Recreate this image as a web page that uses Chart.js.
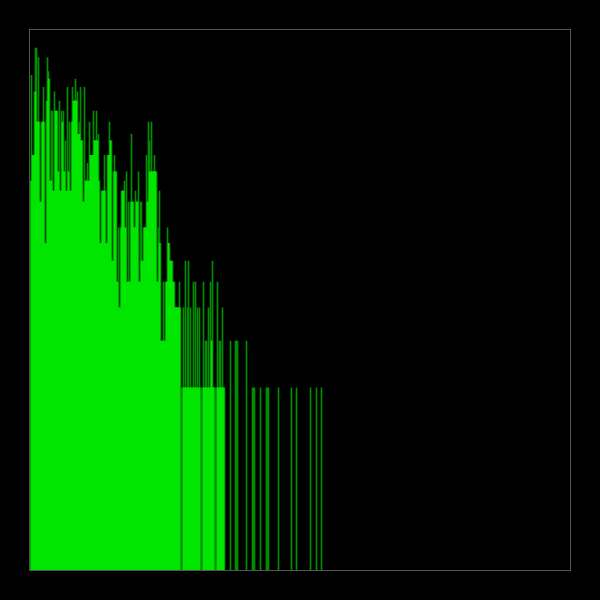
<!DOCTYPE html>
<html>
<head>
<meta charset="utf-8">
<script src="https://cdn.jsdelivr.net/npm/chart.js@4"></script>
<style>
    body { margin: 0; background: #000; }
    #newCanva { width: 600px; height: 600px; }
</style>
</head>
<body>
<div id="newCanva"><canvas id="myChart" width="600" height="600"></canvas></div>
<script>
// counts per bin, one bin per pixel column, left to right
var counts = [
    12, 30, 15, 15, 26, 38, 38, 20, 35, 20,
    10, 20, 20, 27, 20, 7, 24, 35, 31, 29,
    12, 22, 22, 11, 26, 22, 22, 22, 13, 24,
    11, 22, 20, 22, 13, 17, 11, 27, 13, 20,
    11, 20, 27, 24, 24, 29, 24, 26, 18, 20,
    27, 17, 17, 10, 27, 12, 12, 14, 12, 20,
    15, 15, 15, 22, 17, 17, 22, 17, 18, 12,
    7, 11, 11, 11, 15, 11, 7, 15, 15, 20,
    17, 17, 6, 13, 15, 13, 13, 5, 8, 4,
    8, 11, 11, 11, 12, 8, 13, 5, 10, 5,
    10, 18, 10, 10, 8, 11, 10, 10, 13, 5,
    10, 10, 6, 8, 8, 8, 15, 10, 20, 17,
    13, 20, 13, 13, 15, 13, 13, 5, 8, 11,
    7, 3, 3, 5, 3, 5, 5, 8, 7, 7,
    6, 6, 6, 5, 5, 4, 4, 4, 4, 5,
    4, 0, 2, 4, 2, 6, 2, 4, 6, 2,
    4, 2, 2, 5, 2, 5, 2, 4, 2, 4,
    2, 0, 2, 5, 2, 3, 3, 2, 4, 2,
    5, 3, 6, 2, 2, 0, 2, 5, 2, 3,
    3, 2, 4, 2, 2, 0, 0, 0, 0, 0,
    3, 0, 0, 0, 0, 3, 0, 3, 0, 0,
    0, 0, 0, 0, 0, 0, 3, 0, 0, 0,
    0, 0, 2, 0, 2, 0, 0, 0, 0, 0,
    2, 0, 0, 0, 0, 0, 2, 0, 2, 0,
    0, 0, 0, 0, 0, 0, 0, 0, 2, 0,
    0, 0, 0, 0, 0, 0, 0, 0, 0, 0,
    0, 2, 0, 0, 0, 0, 2, 0, 0, 0,
    0, 0, 0, 0, 0, 0, 0, 0, 0, 0,
    2, 0, 0, 0, 0, 0, 2, 0, 0, 0,
    0, 2
];
var binCount = 540;
var yMin = 0.413;
var yMax = 44.4;

var bins = [];
for (var i = 0; i < binCount; i++) bins.push(i);

// thin bars look dimmer where they stick out from their neighbours
function nb(i) { return counts[i] || 0; }
var brightPart = counts.map(function (v, i) {
    var b = Math.min(v, nb(i - 1), nb(i + 1));
    return b > 0 ? b : null;
});
var dimPart = counts.map(function (v, i) {
    var d = v > 0 ? v : Math.min(nb(i - 1), nb(i + 1));
    return d > 0 ? d : null;
});

const frame = {
    id: 'frame',
    afterDatasetsDraw(chart) {
        const c = chart.ctx;
        c.save();
        c.strokeStyle = '#555555';
        c.lineWidth = 1;
        c.strokeRect(29.5, 29.5, 541, 541);
        c.restore();
    }
};

const ctx = document.getElementById('myChart');
new Chart(ctx, {
    type: 'bar',
    data: {
        labels: bins,
        datasets: [{
            data: brightPart,
            backgroundColor: '#00e600',
            borderWidth: 0,
            grouped: false,
            barPercentage: 1,
            categoryPercentage: 1
        }, {
            data: dimPart,
            backgroundColor: '#008f00',
            borderWidth: 0,
            grouped: false,
            barPercentage: 1,
            categoryPercentage: 1
        }]
    },
    options: {
        responsive: false,
        animation: false,
        layout: { padding: 30 },
        plugins: {
            legend: { display: false },
            tooltip: { enabled: false }
        },
        scales: {
            x: { display: false },
            y: {
                type: 'logarithmic',
                display: false,
                min: yMin,
                max: yMax
            }
        }
    },
    plugins: [frame]
});
</script>
</body>
</html>
